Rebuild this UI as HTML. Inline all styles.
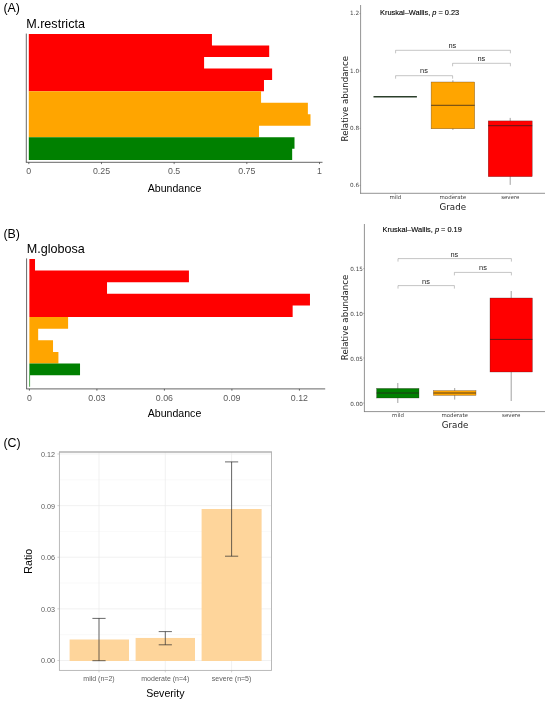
<!DOCTYPE html>
<html><head><meta charset="utf-8"><title>Figure</title>
<style>
html,body{margin:0;padding:0;background:#fff;}
body{width:550px;height:704px;overflow:hidden;}
svg{display:block;}
.l{font-family:"Liberation Sans",Arial,Helvetica,sans-serif;}
.d{font-family:"DejaVu Sans",Verdana,sans-serif;}
</style></head><body>
<svg width="550" height="704" viewBox="0 0 550 704">
<rect width="550" height="704" fill="#fff"/>
<text class="l" transform="translate(3.40,11.80) scale(1,1.07)" font-size="12.4" fill="#000">(A)</text>
<text class="l" transform="translate(26.20,27.80) scale(1,1.07)" font-size="12.6" fill="#000">M.restricta</text>
<path d="M28.80,34.10 L211.94,34.10 L211.94,45.55 L269.21,45.55 L269.21,57.01 L204.09,57.01 L204.09,68.46 L272.12,68.46 L272.12,79.92 L263.98,79.92 L263.98,91.37 L28.80,91.37Z" fill="#ff0000"/>
<path d="M28.80,91.37 L261.07,91.37 L261.07,102.83 L307.87,102.83 L307.87,114.28 L310.49,114.28 L310.49,125.74 L259.03,125.74 L259.03,137.19 L28.80,137.19Z" fill="#ffa500"/>
<path d="M28.80,137.19 L294.50,137.19 L294.50,148.65 L292.17,148.65 L292.17,160.10 L28.80,160.10Z" fill="#008000"/>
<line x1="26.30" y1="33.60" x2="26.30" y2="162.30" stroke="#4a4a4a" stroke-width="0.85" />
<line x1="25.90" y1="162.30" x2="322.50" y2="162.30" stroke="#4a4a4a" stroke-width="0.85" />
<line x1="28.80" y1="162.30" x2="28.80" y2="164.10" stroke="#333" stroke-width="0.7" />
<text class="l" x="28.80" y="174.20" font-size="8.8" fill="#5a5a5a" text-anchor="middle" >0</text>
<line x1="101.47" y1="162.30" x2="101.47" y2="164.10" stroke="#333" stroke-width="0.7" />
<text class="l" x="101.47" y="174.20" font-size="8.8" fill="#5a5a5a" text-anchor="middle" >0.25</text>
<line x1="174.15" y1="162.30" x2="174.15" y2="164.10" stroke="#333" stroke-width="0.7" />
<text class="l" x="174.15" y="174.20" font-size="8.8" fill="#5a5a5a" text-anchor="middle" >0.5</text>
<line x1="246.82" y1="162.30" x2="246.82" y2="164.10" stroke="#333" stroke-width="0.7" />
<text class="l" x="246.82" y="174.20" font-size="8.8" fill="#5a5a5a" text-anchor="middle" >0.75</text>
<line x1="319.50" y1="162.30" x2="319.50" y2="164.10" stroke="#333" stroke-width="0.7" />
<text class="l" x="319.50" y="174.20" font-size="8.8" fill="#5a5a5a" text-anchor="middle" >1</text>
<text class="l" x="174.50" y="191.60" font-size="10.6" fill="#000" text-anchor="middle" >Abundance</text>
<text class="l" transform="translate(3.40,238.20) scale(1,1.07)" font-size="12.4" fill="#000">(B)</text>
<text class="l" transform="translate(26.70,252.50) scale(1,1.07)" font-size="12.6" fill="#000">M.globosa</text>
<path d="M29.40,258.90 L35.02,258.90 L35.02,270.53 L188.93,270.53 L188.93,282.15 L107.03,282.15 L107.03,293.78 L309.97,293.78 L309.97,305.41 L292.65,305.41 L292.65,317.04 L29.40,317.04Z" fill="#ff0000"/>
<path d="M29.40,317.04 L68.10,317.04 L68.10,328.66 L38.17,328.66 L38.17,340.29 L53.02,340.29 L53.02,351.92 L58.42,351.92 L58.42,363.55 L29.40,363.55Z" fill="#ffa500"/>
<path d="M29.40,363.55 L80.03,363.55 L80.03,375.17 L30.07,375.17 L30.07,386.80 L29.40,386.80Z" fill="#008000"/>
<line x1="26.60" y1="258.40" x2="26.60" y2="388.90" stroke="#4a4a4a" stroke-width="0.85" />
<line x1="26.20" y1="388.90" x2="325.20" y2="388.90" stroke="#4a4a4a" stroke-width="0.85" />
<line x1="29.40" y1="388.90" x2="29.40" y2="390.70" stroke="#333" stroke-width="0.7" />
<text class="l" x="29.40" y="400.80" font-size="8.8" fill="#5a5a5a" text-anchor="middle" >0</text>
<line x1="96.90" y1="388.90" x2="96.90" y2="390.70" stroke="#333" stroke-width="0.7" />
<text class="l" x="96.90" y="400.80" font-size="8.8" fill="#5a5a5a" text-anchor="middle" >0.03</text>
<line x1="164.40" y1="388.90" x2="164.40" y2="390.70" stroke="#333" stroke-width="0.7" />
<text class="l" x="164.40" y="400.80" font-size="8.8" fill="#5a5a5a" text-anchor="middle" >0.06</text>
<line x1="231.90" y1="388.90" x2="231.90" y2="390.70" stroke="#333" stroke-width="0.7" />
<text class="l" x="231.90" y="400.80" font-size="8.8" fill="#5a5a5a" text-anchor="middle" >0.09</text>
<line x1="299.40" y1="388.90" x2="299.40" y2="390.70" stroke="#333" stroke-width="0.7" />
<text class="l" x="299.40" y="400.80" font-size="8.8" fill="#5a5a5a" text-anchor="middle" >0.12</text>
<text class="l" x="174.50" y="417.40" font-size="10.6" fill="#000" text-anchor="middle" >Abundance</text>
<line x1="360.60" y1="5.00" x2="360.60" y2="193.70" stroke="#777" stroke-width="0.8" />
<line x1="360.20" y1="193.30" x2="545.00" y2="193.30" stroke="#777" stroke-width="0.8" />
<line x1="359.40" y1="13.60" x2="360.60" y2="13.60" stroke="#777" stroke-width="0.5" />
<text class="d" x="359.10" y="15.40" font-size="5.7" fill="#444" text-anchor="end" >1.2</text>
<line x1="359.40" y1="71.00" x2="360.60" y2="71.00" stroke="#777" stroke-width="0.5" />
<text class="d" x="359.10" y="72.80" font-size="5.7" fill="#444" text-anchor="end" >1.0</text>
<line x1="359.40" y1="128.40" x2="360.60" y2="128.40" stroke="#777" stroke-width="0.5" />
<text class="d" x="359.10" y="130.20" font-size="5.7" fill="#444" text-anchor="end" >0.8</text>
<line x1="359.40" y1="185.40" x2="360.60" y2="185.40" stroke="#777" stroke-width="0.5" />
<text class="d" x="359.10" y="187.20" font-size="5.7" fill="#444" text-anchor="end" >0.6</text>
<text class="d" transform="translate(347.60,98.70) rotate(-90)" font-size="8.65" fill="#1a1a1a" text-anchor="middle">Relative abundance</text>
<text class="d" x="452.80" y="209.80" font-size="8.7" fill="#1a1a1a" text-anchor="middle" >Grade</text>
<text class="l" x="380" y="14.9" font-size="7.4" fill="#000" stroke="#000" stroke-width="0.12">Kruskal–Wallis, <tspan font-style="italic">p</tspan> = 0.23</text>
<polyline points="395.6,53.3 395.6,50.3 510.4,50.3 510.4,53.3" fill="none" stroke="#8a8a8a" stroke-width="0.5"/>
<text class="l" x="452.40" y="47.90" font-size="7.4" fill="#222" text-anchor="middle" >ns</text>
<polyline points="452.6,66.3 452.6,63.3 510.4,63.3 510.4,66.3" fill="none" stroke="#8a8a8a" stroke-width="0.5"/>
<text class="l" x="481.40" y="60.50" font-size="7.4" fill="#222" text-anchor="middle" >ns</text>
<polyline points="395.6,78.7 395.6,75.7 452.6,75.7 452.6,78.7" fill="none" stroke="#8a8a8a" stroke-width="0.5"/>
<text class="l" x="424.00" y="73.30" font-size="7.4" fill="#222" text-anchor="middle" >ns</text>
<line x1="373.50" y1="96.70" x2="416.90" y2="96.70" stroke="#2b3f2b" stroke-width="1.5" />
<line x1="452.90" y1="80.30" x2="452.90" y2="130.00" stroke="#555" stroke-width="0.55" />
<rect x="431.10" y="82.00" width="43.60" height="46.80" fill="#ffa500" stroke="#332222" stroke-opacity="0.7" stroke-width="0.4"/>
<line x1="431.10" y1="105.30" x2="474.70" y2="105.30" stroke="#2a2020" stroke-width="1.0" stroke-opacity="0.75"/>
<line x1="510.20" y1="117.90" x2="510.20" y2="184.90" stroke="#555" stroke-width="0.55" />
<rect x="488.20" y="120.90" width="44.00" height="55.80" fill="#ff0000" stroke="#332222" stroke-opacity="0.7" stroke-width="0.4"/>
<line x1="488.20" y1="125.70" x2="532.20" y2="125.70" stroke="#2a2020" stroke-width="1.0" stroke-opacity="0.75"/>
<line x1="395.30" y1="193.30" x2="395.30" y2="194.50" stroke="#777" stroke-width="0.5" />
<text class="d" x="395.30" y="199.20" font-size="5.45" fill="#3d3d3d" text-anchor="middle" >mild</text>
<line x1="452.80" y1="193.30" x2="452.80" y2="194.50" stroke="#777" stroke-width="0.5" />
<text class="d" x="452.80" y="199.20" font-size="5.45" fill="#3d3d3d" text-anchor="middle" >moderate</text>
<line x1="510.30" y1="193.30" x2="510.30" y2="194.50" stroke="#777" stroke-width="0.5" />
<text class="d" x="510.30" y="199.20" font-size="5.45" fill="#3d3d3d" text-anchor="middle" >severe</text>
<line x1="364.40" y1="224.00" x2="364.40" y2="412.00" stroke="#777" stroke-width="0.8" />
<line x1="364.00" y1="411.60" x2="545.00" y2="411.60" stroke="#777" stroke-width="0.8" />
<line x1="363.20" y1="268.60" x2="364.40" y2="268.60" stroke="#777" stroke-width="0.5" />
<text class="d" x="362.90" y="271.30" font-size="5.7" fill="#444" text-anchor="end" >0.15</text>
<line x1="363.20" y1="313.40" x2="364.40" y2="313.40" stroke="#777" stroke-width="0.5" />
<text class="d" x="362.90" y="316.10" font-size="5.7" fill="#444" text-anchor="end" >0.10</text>
<line x1="363.20" y1="358.00" x2="364.40" y2="358.00" stroke="#777" stroke-width="0.5" />
<text class="d" x="362.90" y="360.70" font-size="5.7" fill="#444" text-anchor="end" >0.05</text>
<line x1="363.20" y1="403.00" x2="364.40" y2="403.00" stroke="#777" stroke-width="0.5" />
<text class="d" x="362.90" y="405.70" font-size="5.7" fill="#444" text-anchor="end" >0.00</text>
<text class="d" transform="translate(347.50,317.40) rotate(-90)" font-size="8.65" fill="#1a1a1a" text-anchor="middle">Relative abundance</text>
<text class="d" x="455.00" y="428.00" font-size="8.7" fill="#1a1a1a" text-anchor="middle" >Grade</text>
<text class="l" x="382.6" y="232.3" font-size="7.4" fill="#000" stroke="#000" stroke-width="0.12">Kruskal–Wallis, <tspan font-style="italic">p</tspan> = 0.19</text>
<polyline points="398,261.6 398,258.6 511.4,258.6 511.4,261.6" fill="none" stroke="#8a8a8a" stroke-width="0.5"/>
<text class="l" x="454.40" y="256.80" font-size="7.4" fill="#222" text-anchor="middle" >ns</text>
<polyline points="454.4,275.4 454.4,272.4 511.4,272.4 511.4,275.4" fill="none" stroke="#8a8a8a" stroke-width="0.5"/>
<text class="l" x="483.00" y="270.40" font-size="7.4" fill="#222" text-anchor="middle" >ns</text>
<polyline points="398,288.6 398,285.6 454.4,285.6 454.4,288.6" fill="none" stroke="#8a8a8a" stroke-width="0.5"/>
<text class="l" x="426.00" y="283.80" font-size="7.4" fill="#222" text-anchor="middle" >ns</text>
<line x1="397.80" y1="383.00" x2="397.80" y2="403.00" stroke="#555" stroke-width="0.55" />
<rect x="376.60" y="388.40" width="42.40" height="9.60" fill="#008000" stroke="#332222" stroke-opacity="0.7" stroke-width="0.4"/>
<line x1="376.60" y1="393.00" x2="419.00" y2="393.00" stroke="#2a2020" stroke-width="1.0" stroke-opacity="0.75"/>
<line x1="454.70" y1="388.00" x2="454.70" y2="399.60" stroke="#555" stroke-width="0.55" />
<rect x="433.40" y="390.60" width="42.60" height="4.80" fill="#ffa500" stroke="#332222" stroke-opacity="0.7" stroke-width="0.4"/>
<line x1="433.40" y1="393.00" x2="476.00" y2="393.00" stroke="#2a2020" stroke-width="1.0" stroke-opacity="0.75"/>
<line x1="511.20" y1="291.00" x2="511.20" y2="401.00" stroke="#555" stroke-width="0.55" />
<rect x="490.00" y="298.00" width="42.40" height="74.00" fill="#ff0000" stroke="#332222" stroke-opacity="0.7" stroke-width="0.4"/>
<line x1="490.00" y1="339.40" x2="532.40" y2="339.40" stroke="#2a2020" stroke-width="1.0" stroke-opacity="0.75"/>
<line x1="398.00" y1="411.60" x2="398.00" y2="412.80" stroke="#777" stroke-width="0.5" />
<text class="d" x="398.00" y="417.40" font-size="5.45" fill="#3d3d3d" text-anchor="middle" >mild</text>
<line x1="454.70" y1="411.60" x2="454.70" y2="412.80" stroke="#777" stroke-width="0.5" />
<text class="d" x="454.70" y="417.40" font-size="5.45" fill="#3d3d3d" text-anchor="middle" >moderate</text>
<line x1="511.20" y1="411.60" x2="511.20" y2="412.80" stroke="#777" stroke-width="0.5" />
<text class="d" x="511.20" y="417.40" font-size="5.45" fill="#3d3d3d" text-anchor="middle" >severe</text>
<text class="l" transform="translate(3.40,446.80) scale(1,1.07)" font-size="12.4" fill="#000">(C)</text>
<line x1="59.40" y1="634.68" x2="271.50" y2="634.68" stroke="#f3f3f3" stroke-width="0.5" />
<line x1="59.40" y1="583.06" x2="271.50" y2="583.06" stroke="#f3f3f3" stroke-width="0.5" />
<line x1="59.40" y1="531.42" x2="271.50" y2="531.42" stroke="#f3f3f3" stroke-width="0.5" />
<line x1="59.40" y1="479.80" x2="271.50" y2="479.80" stroke="#f3f3f3" stroke-width="0.5" />
<line x1="59.40" y1="660.50" x2="271.50" y2="660.50" stroke="#ebebeb" stroke-width="0.7" />
<line x1="59.40" y1="608.87" x2="271.50" y2="608.87" stroke="#ebebeb" stroke-width="0.7" />
<line x1="59.40" y1="557.24" x2="271.50" y2="557.24" stroke="#ebebeb" stroke-width="0.7" />
<line x1="59.40" y1="505.61" x2="271.50" y2="505.61" stroke="#ebebeb" stroke-width="0.7" />
<line x1="59.40" y1="453.98" x2="271.50" y2="453.98" stroke="#ebebeb" stroke-width="0.7" />
<line x1="99.00" y1="452.00" x2="99.00" y2="670.40" stroke="#ebebeb" stroke-width="0.7" />
<line x1="165.30" y1="452.00" x2="165.30" y2="670.40" stroke="#ebebeb" stroke-width="0.7" />
<line x1="231.60" y1="452.00" x2="231.60" y2="670.40" stroke="#ebebeb" stroke-width="0.7" />
<rect x="69.60" y="639.50" width="59.40" height="21.50" fill="#fed59b" />
<rect x="135.60" y="637.95" width="59.40" height="23.05" fill="#fed59b" />
<rect x="201.60" y="509.00" width="60.00" height="152.00" fill="#fed59b" />
<line x1="99.00" y1="618.40" x2="99.00" y2="660.70" stroke="#2a2a2a" stroke-width="0.7" />
<line x1="92.40" y1="618.40" x2="105.60" y2="618.40" stroke="#2a2a2a" stroke-width="0.7" />
<line x1="92.40" y1="660.70" x2="105.60" y2="660.70" stroke="#2a2a2a" stroke-width="0.7" />
<line x1="165.30" y1="631.60" x2="165.30" y2="644.80" stroke="#2a2a2a" stroke-width="0.7" />
<line x1="158.70" y1="631.60" x2="171.90" y2="631.60" stroke="#2a2a2a" stroke-width="0.7" />
<line x1="158.70" y1="644.80" x2="171.90" y2="644.80" stroke="#2a2a2a" stroke-width="0.7" />
<line x1="231.60" y1="461.90" x2="231.60" y2="556.20" stroke="#2a2a2a" stroke-width="0.7" />
<line x1="225.00" y1="461.90" x2="238.20" y2="461.90" stroke="#2a2a2a" stroke-width="0.7" />
<line x1="225.00" y1="556.20" x2="238.20" y2="556.20" stroke="#2a2a2a" stroke-width="0.7" />
<rect x="59.4" y="452" width="212.1" height="218.39999999999998" fill="none" stroke="#b2b2b2" stroke-width="0.9"/>
<line x1="58.95" y1="452.00" x2="271.95" y2="452.00" stroke="#adadad" stroke-width="1.05" />
<line x1="57.40" y1="660.50" x2="59.40" y2="660.50" stroke="#b3b3b3" stroke-width="0.6" />
<text class="l" x="55.00" y="663.40" font-size="7.2" fill="#5e5e5e" text-anchor="end" >0.00</text>
<line x1="57.40" y1="608.87" x2="59.40" y2="608.87" stroke="#b3b3b3" stroke-width="0.6" />
<text class="l" x="55.00" y="611.77" font-size="7.2" fill="#5e5e5e" text-anchor="end" >0.03</text>
<line x1="57.40" y1="557.24" x2="59.40" y2="557.24" stroke="#b3b3b3" stroke-width="0.6" />
<text class="l" x="55.00" y="560.14" font-size="7.2" fill="#5e5e5e" text-anchor="end" >0.06</text>
<line x1="57.40" y1="505.61" x2="59.40" y2="505.61" stroke="#b3b3b3" stroke-width="0.6" />
<text class="l" x="55.00" y="508.51" font-size="7.2" fill="#5e5e5e" text-anchor="end" >0.09</text>
<line x1="57.40" y1="453.98" x2="59.40" y2="453.98" stroke="#b3b3b3" stroke-width="0.6" />
<text class="l" x="55.00" y="456.88" font-size="7.2" fill="#5e5e5e" text-anchor="end" >0.12</text>
<line x1="99.00" y1="670.40" x2="99.00" y2="672.40" stroke="#b3b3b3" stroke-width="0.6" />
<text class="l" x="99.00" y="680.50" font-size="7.0" fill="#5e5e5e" text-anchor="middle" >mild (n=2)</text>
<line x1="165.30" y1="670.40" x2="165.30" y2="672.40" stroke="#b3b3b3" stroke-width="0.6" />
<text class="l" x="165.30" y="680.50" font-size="7.0" fill="#5e5e5e" text-anchor="middle" >moderate (n=4)</text>
<line x1="231.60" y1="670.40" x2="231.60" y2="672.40" stroke="#b3b3b3" stroke-width="0.6" />
<text class="l" x="231.60" y="680.50" font-size="7.0" fill="#5e5e5e" text-anchor="middle" >severe (n=5)</text>
<text class="l" x="165.30" y="697.00" font-size="10.6" fill="#000" text-anchor="middle" >Severity</text>
<text class="l" transform="translate(31.90,561.30) rotate(-90)" font-size="10.6" fill="#000" text-anchor="middle">Ratio</text>
</svg>
</body></html>
